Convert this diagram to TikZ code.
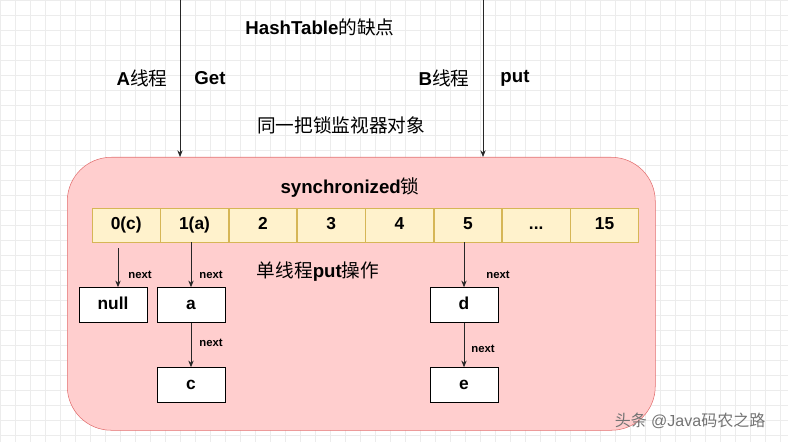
\documentclass[tikz,border=0pt]{standalone}
\usepackage{fontspec}
\setmainfont{Liberation Sans}
\newfontfamily\cjk{Noto Sans CJK SC}
\usetikzlibrary{arrows.meta}
\definecolor{boxfill}{RGB}{255,206,206}
\definecolor{boxline}{RGB}{226,110,110}
\definecolor{cellfill}{RGB}{255,242,204}
\definecolor{cellline}{RGB}{214,182,86}
\definecolor{gridc}{RGB}{236,236,236}
\tikzset{
  arr/.style={-{Stealth[length=5pt,width=4pt]},line width=0.6pt,black!85},
  cell/.style={draw=cellline,fill=cellfill,minimum width={67.8*0.75pt},minimum height={34*0.75pt},inner sep=0,text height=9.5pt,text depth=2.5pt,font=\bfseries\fontsize{13}{15}\selectfont,anchor=west},
  lbox/.style={draw=black,fill=white,minimum width={68*0.75pt},minimum height={35*0.75pt},inner sep=0,text height=9.5pt,text depth=2.5pt,font=\bfseries\fontsize{13}{15}\selectfont},
  nx/.style={font=\bfseries\fontsize{8.5}{10}\selectfont},
  big/.style={font=\bfseries\fontsize{14}{16}\selectfont},
}
\begin{document}
\begin{tikzpicture}[x=0.75pt,y=-0.75pt]
\useasboundingbox (0,0) rectangle (788,442);
\draw[gridc,step=11.25pt] (0,0) grid (788,442);
\node[big] (title) at (320,27) {HashTable{\cjk\mdseries 的缺点}};
\node[big] (ta) at (142,78) {A{\cjk\mdseries 线程}};
\node[big] (tg) at (210,78) {Get};
\node[big] (tb) at (444,78) {B{\cjk\mdseries 线程}};
\node[big] (tp) at (515,78) {put};
\node[font=\cjk\fontsize{14}{16}\selectfont] (mon) at (341,125) {同一把锁监视器对象};
\node[draw=boxline,fill=boxfill,rounded corners=33pt,minimum width={588*0.75pt},minimum height={273*0.75pt},anchor=north west,inner sep=0] (lock) at (67,157) {};
\coordinate (sa) at (180,0);
\coordinate (sb) at (483,0);
\draw[arr] (sa) -- (sa |- lock.north);
\draw[arr] (sb) -- (sb |- lock.north);
\node[big] (sync) at (350,188) {synchronized{\cjk\mdseries 锁}};
\node[cell] (c0) at (92,225) {0(c)};
\node[cell] (c1) at (c0.east) {1(a)};
\node[cell] (c2) at (c1.east) {2};
\node[cell] (c3) at (c2.east) {3};
\node[cell] (c4) at (c3.east) {4};
\node[cell] (c5) at (c4.east) {5};
\node[cell] (c6) at (c5.east) {...};
\node[cell] (c7) at (c6.east) {15};
\node[big] (single) at (318,272) {{\cjk\mdseries 单线程}put{\cjk\mdseries 操作}};
\node[lbox] (null) at (113,305) {null};
\node[lbox] (a) at (191,305) {a};
\node[lbox] (c) at (191,385) {c};
\node[lbox] (d) at (464,305) {d};
\node[lbox] (e) at (464,385) {e};
\coordinate (n0) at (118,248);
\draw[arr] (n0) -- (n0 |- null.north);
\draw[arr] (a.north |- c1.south) -- (a.north);
\draw[arr] (a) -- (c);
\draw[arr] (d.north |- c5.south) -- (d.north);
\draw[arr] (d) -- (e);
\node[nx] (x1) at (140,275) {next};
\node[nx] (x2) at (211,275) {next};
\node[nx] (x3) at (211,343) {next};
\node[nx] (x4) at (498,275) {next};
\node[nx] (x5) at (483,349) {next};
\node[font=\fontsize{12}{14}\selectfont,text=black!55] (wm) at (690,421) {{\cjk 头条} @Java{\cjk 码农之路}};
\end{tikzpicture}
\end{document}
